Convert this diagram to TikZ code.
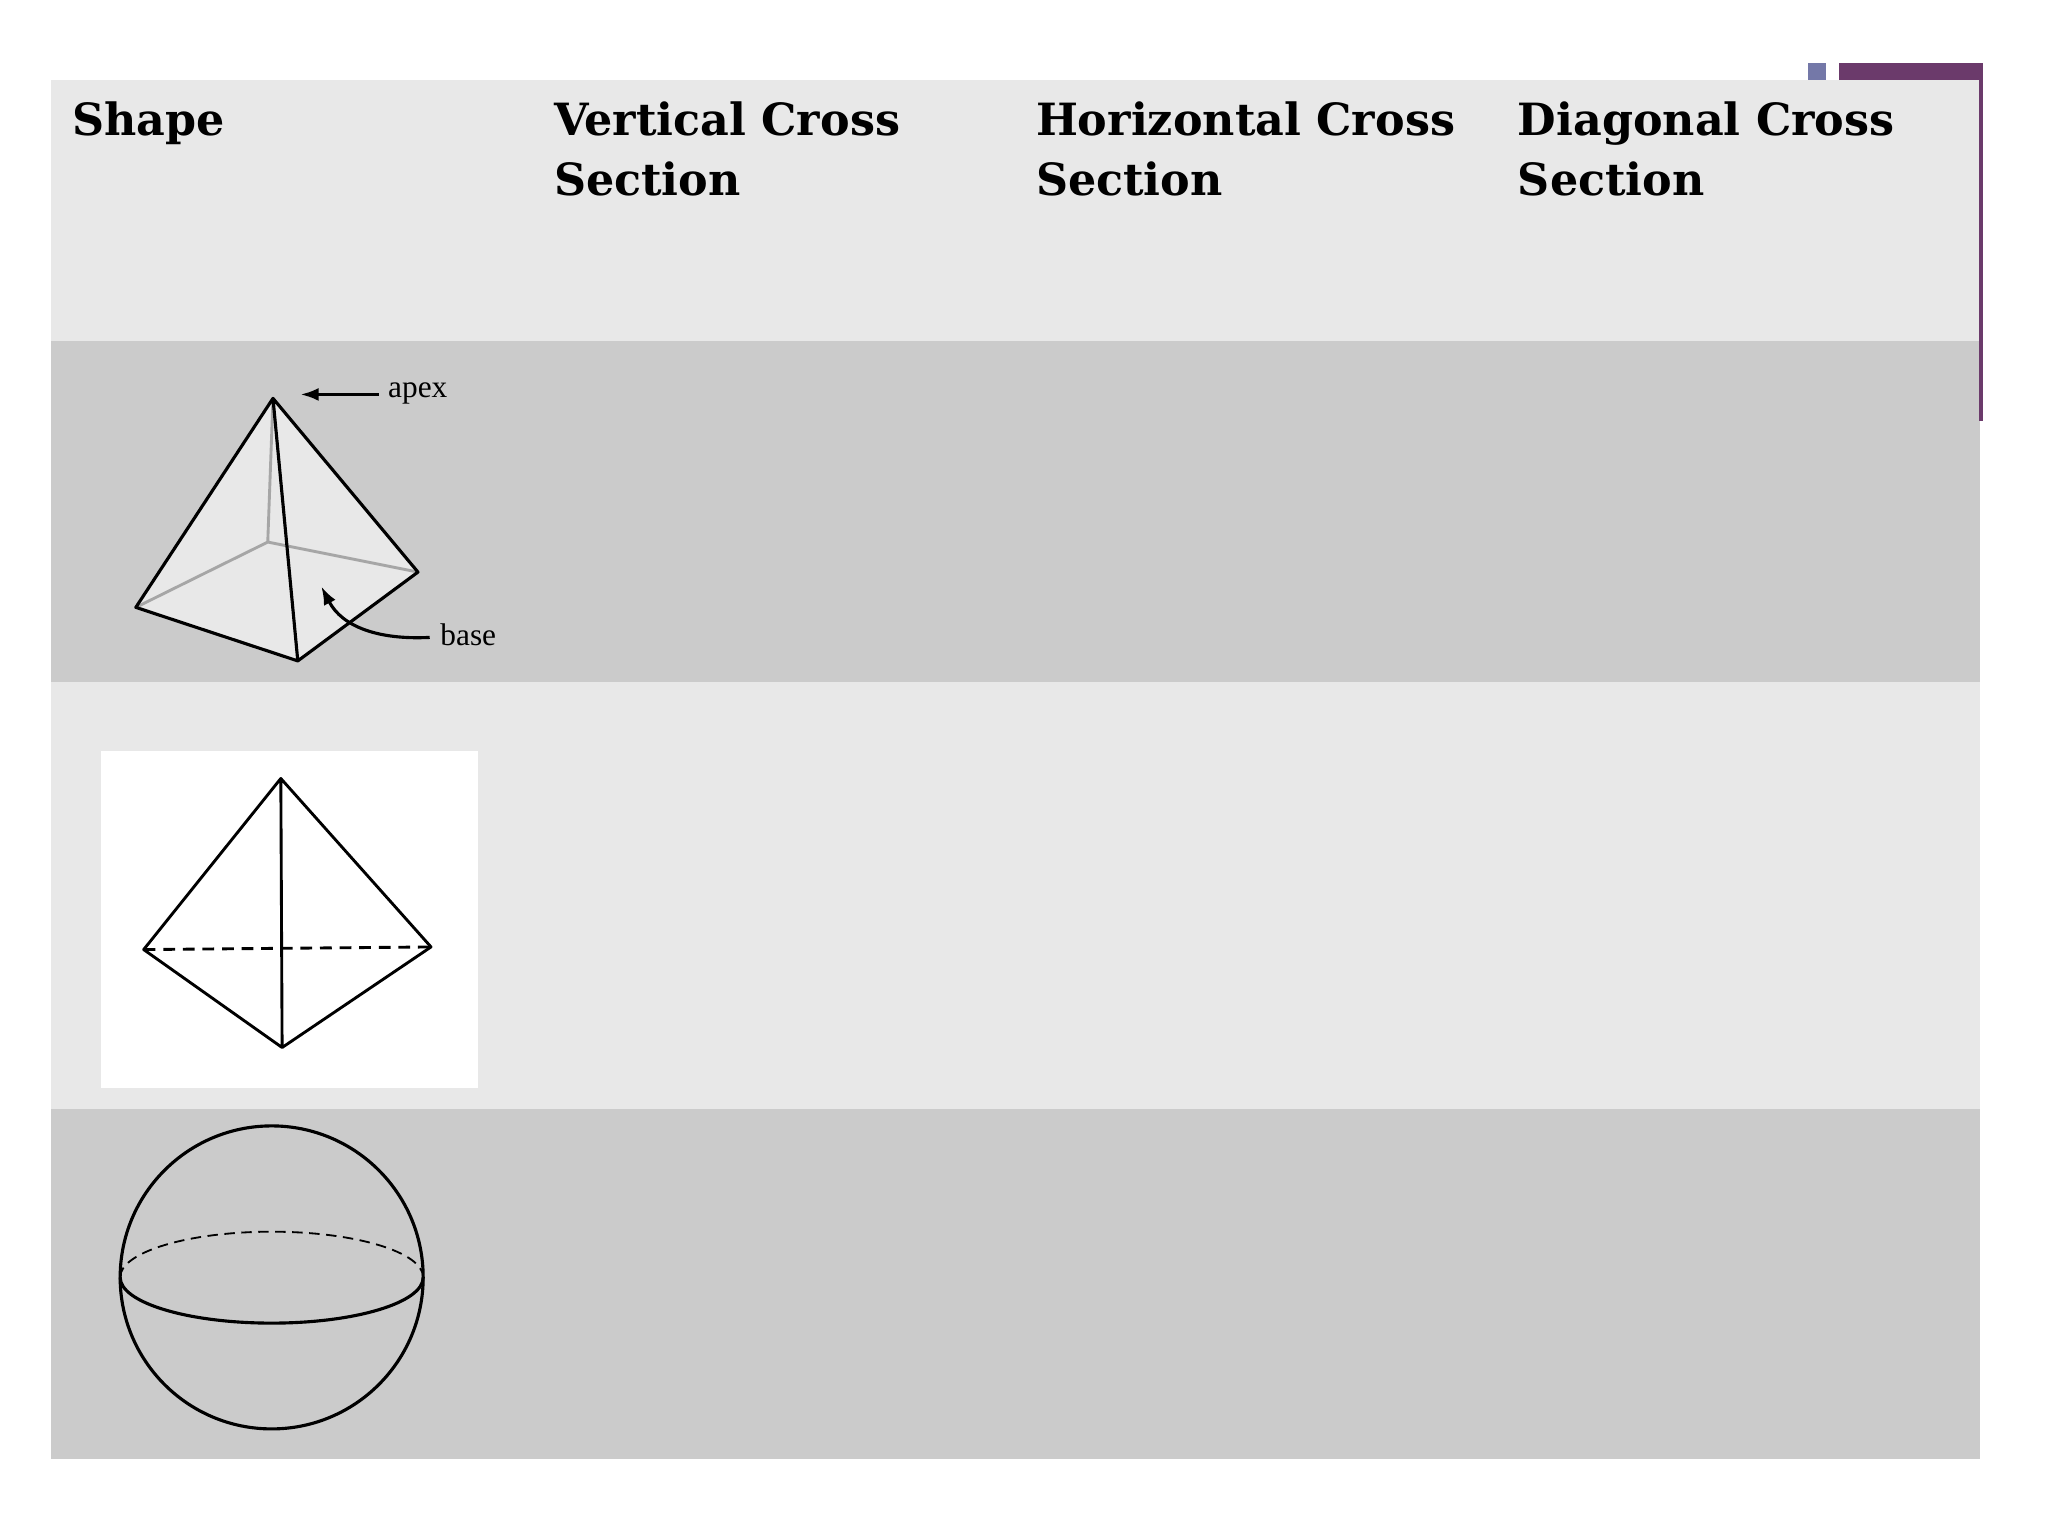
\documentclass[tikz,border=0pt]{standalone}
\usepackage{fontspec}
\setmainfont{DejaVu Serif}
\newfontfamily\lab{Liberation Serif}
\usetikzlibrary{arrows.meta}
\definecolor{lite}{HTML}{E8E8E8}
\definecolor{dark}{HTML}{CBCBCB}
\definecolor{purp}{HTML}{6B3A6B}
\definecolor{slate}{HTML}{7478A8}
\tikzset{hdr/.style={anchor=north west,align=left,font=\fontsize{34}{46}\selectfont\bfseries,inner sep=0},
edge/.style={line width=2.4pt,line join=round},
lbl/.style={font=\lab\fontsize{24}{28}\selectfont,inner sep=0}}
\begin{document}
\begin{tikzpicture}[x=1pt,y=-1pt]
\useasboundingbox (0,0) rectangle (1568,1176);
\fill[white] (0,0) rectangle (1568,1176);
\fill[lite] (39,61) rectangle (1516,261);
\fill[dark] (39,261) rectangle (1516,522);
\fill[lite] (39,522) rectangle (1516,849);
\fill[dark] (39,849) rectangle (1516,1117);
\fill[slate] (1384,48) rectangle (1398,61);
\fill[purp] (1408,48) rectangle (1518,61);
\fill[purp] (1515,48) rectangle (1518,322);
\node[hdr] (h1) at (55,78) {Shape};
\node[hdr] (h2) at (424,78) {Vertical Cross\\Section};
\node[hdr] (h3) at (793,78) {Horizontal Cross\\Section};
\node[hdr] (h4) at (1162,78) {Diagonal Cross\\Section};
% pyramid
\coordinate (A) at (209,305); \coordinate (L) at (104,465);
\coordinate (F) at (228,506); \coordinate (R) at (320,438);
\coordinate (B) at (205,415);
\fill[lite] (A)--(L)--(F)--(R)--cycle;
\draw[gray!70,line width=2.2pt] (L)--(B)--(R) (B)--(A);
\draw[edge] (A)--(L)--(F)--(R)--cycle (A)--(F);
\node[lbl,anchor=west] (apex) at (297,301) {apex};
\draw[line width=2.4pt,-{Latex[length=14pt,width=10pt]}] (apex.west)++(-7,1) -- (230,302);
\node[lbl,anchor=west] (base) at (337,486) {base};
\draw[line width=2.4pt,-{Latex[length=14pt,width=10pt]}] (base.west)++(-8,2) .. controls (290,490) and (262,480) .. (246,449);
% bipyramid
\fill[white] (77,575) rectangle (366,833);
\coordinate (T) at (215,596); \coordinate (BL) at (110,727);
\coordinate (BR) at (330,725); \coordinate (BB) at (216,802);
\draw[line width=2.2pt,line join=round] (T)--(BL)--(BB)--(BR)--cycle (T)--(BB);
\draw[line width=2.2pt,dashed,dash pattern=on 9pt off 6pt] (BL)--(BR);
% sphere
\coordinate (S) at (208,978);
\draw[line width=2.4pt] (S) circle[radius=116];
\draw[line width=2.4pt] (92,978) arc[start angle=180,end angle=0,x radius=116,y radius=35];
\draw[line width=1.4pt,dashed,dash pattern=on 8pt off 5pt] (92,978) arc[start angle=180,end angle=360,x radius=116,y radius=35];
\end{tikzpicture}
\end{document}
